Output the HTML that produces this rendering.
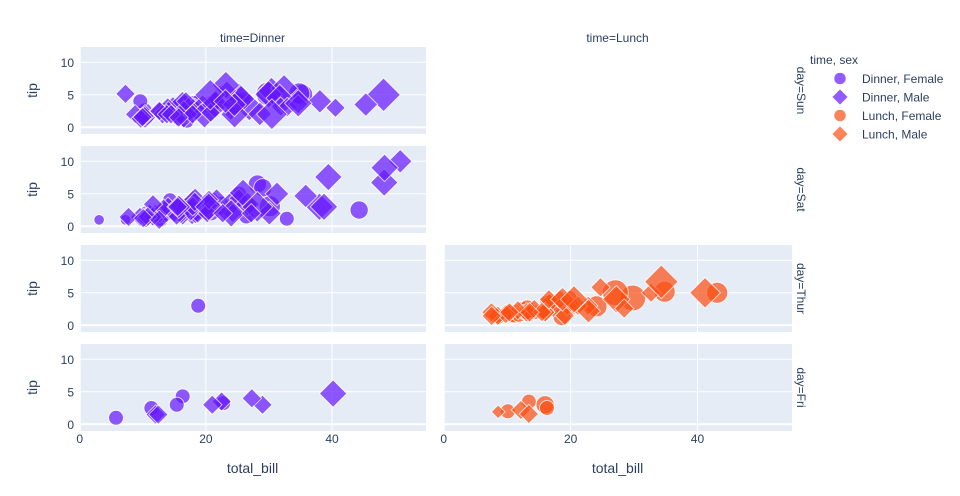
<!DOCTYPE html>
<html><head><meta charset="utf-8"><style>
body{margin:0;background:#fff;}
svg{display:block;font-family:"Liberation Sans",Arial,sans-serif;}
</style></head><body>
<svg id="chart" width="960" height="496"></svg>
<script>
// ---- data (tips dataset, by day) ----
const sunBill=[16.99,10.34,21.01,23.68,24.59,25.29,8.77,26.88,15.04,14.78,10.27,35.26,15.42,18.43,14.83,21.58,10.33,16.29,16.97,17.46,13.94,9.68,30.4,18.29,22.23,32.4,28.55,18.04,12.54,10.29,34.81,9.94,25.56,19.49,38.07,23.95,25.71,17.31,29.93,14.07,13.13,17.26,24.55,19.77,29.85,48.17,25.0,13.39,16.49,21.5,12.66,16.21,13.81,17.51,24.52,20.76,31.71,7.25,31.85,16.82,32.9,17.89,14.48,9.6,34.63,34.65,23.33,45.35,23.17,40.55,20.69,20.9,30.46,18.15,23.1,15.69];
const sunTip=[1.01,1.66,3.5,3.31,3.61,4.71,2.0,3.12,1.96,3.23,1.71,5.0,1.57,3.0,3.02,3.92,1.67,3.71,3.5,2.54,3.06,1.32,5.6,3.0,5.0,6.0,2.05,3.0,2.5,2.6,5.2,1.56,4.34,3.51,4.0,2.55,4.0,3.5,5.07,2.5,2.0,2.74,2.0,2.0,5.14,5.0,3.75,2.61,2.0,3.5,2.5,2.0,2.0,3.0,3.48,2.24,4.5,5.15,3.18,4.0,3.11,2.0,2.0,4.0,3.55,3.68,5.65,3.5,6.5,3.0,5.0,3.5,2.0,3.5,4.0,1.5];
const sunSex="FMMMFMMMMMMFMMFMFMFMMMMMMMMMMFFMMMMMFFMMMMMMFMFFMMMFMFMMMMMMMMMFMMMMMMMFMFMM";
const sunSize=[2,3,3,2,4,4,2,4,2,2,2,4,2,4,2,2,3,3,3,2,2,2,4,2,2,4,3,2,2,2,4,2,4,2,3,2,3,2,4,2,2,3,4,4,5,6,4,2,4,4,2,3,2,2,3,2,4,2,2,2,2,2,2,2,2,4,2,3,4,2,5,3,5,3,3,2];
const satBill=[20.65,17.92,20.29,15.77,39.42,19.82,17.81,13.37,12.69,21.7,19.65,9.55,18.35,15.06,20.69,17.78,24.06,16.31,16.93,18.69,31.27,16.04,38.01,26.41,11.24,48.27,20.29,13.81,11.02,18.29,17.59,20.08,16.45,3.07,20.23,15.01,12.02,17.07,26.86,25.28,14.73,10.51,17.92,44.3,22.42,20.92,15.36,20.49,25.21,18.24,14.31,14.0,7.25,10.59,10.63,50.81,15.81,26.59,38.73,24.27,12.76,30.06,25.89,48.33,13.27,28.17,12.9,28.15,11.59,7.74,30.14,20.45,13.28,22.12,24.01,15.69,11.61,10.77,15.53,10.07,12.6,32.83,35.83,29.03,27.18,22.67,17.82];
const satTip=[3.35,4.08,2.75,2.23,7.58,3.18,2.34,2.0,2.0,4.3,3.0,1.45,2.5,3.0,2.45,3.27,3.6,2.0,3.07,2.31,5.0,2.24,3.0,1.5,1.76,6.73,3.21,2.0,1.98,3.76,2.64,3.15,2.47,1.0,2.01,2.09,1.97,3.0,3.14,5.0,2.2,1.25,3.08,2.5,3.48,4.08,1.64,4.06,4.29,3.76,4.0,3.0,1.0,1.61,2.0,10.0,3.16,3.41,3.0,2.03,2.23,2.0,5.16,9.0,2.5,6.5,1.1,3.0,1.5,1.44,3.09,3.0,2.72,2.88,2.0,3.0,3.39,1.47,3.0,1.25,1.0,1.17,4.67,5.92,2.0,2.0,1.75];
const satSex="MMFFMMMMMMFMMFFMMMFMMMMFMMMMMMMMFFMMMFFFFMMFFFMMMMFMFFFMMMMMFMMMFFFMMMFMMFMMMMMMMFMFMM";
const satSize=[3,2,2,2,4,2,4,2,2,2,2,2,4,2,4,2,3,3,3,3,3,3,4,2,2,4,2,2,2,4,3,3,2,1,2,2,2,3,2,2,2,2,2,3,2,2,2,2,2,2,2,2,1,2,2,3,2,3,4,2,2,3,4,4,2,3,2,5,2,2,4,4,2,2,4,3,2,2,2,2,2,2,3,3,2,2,2];
const thurBill=[27.2,22.76,17.29,19.44,16.66,10.07,32.68,15.98,34.83,13.03,18.28,24.71,21.16,10.65,12.43,24.08,11.69,13.42,14.26,15.95,12.48,29.8,8.52,14.52,11.38,22.82,19.08,20.27,11.17,12.26,18.26,8.51,10.33,14.15,16.0,13.16,17.47,34.3,41.19,27.05,16.43,8.35,18.64,11.87,9.78,7.51,19.81,28.44,15.48,16.58,7.56,10.34,43.11,13.0,13.51,18.71,12.74,13.0,16.4,20.53,16.47,18.78];
const thurTip=[4.0,3.0,2.71,3.0,3.4,1.83,5.0,2.03,5.17,2.0,4.0,5.85,3.0,1.5,1.8,2.92,2.31,1.68,2.5,2.0,2.52,4.2,1.48,2.0,2.0,2.18,1.5,2.83,1.5,2.0,3.25,1.25,2.0,2.0,2.0,2.75,3.5,6.7,5.0,5.0,2.3,1.5,1.36,1.63,1.73,2.0,4.19,2.56,2.02,4.0,1.44,2.0,5.0,2.0,2.0,4.0,2.01,2.0,2.5,4.0,3.23,3.0];
const thurSex="MMMMMFMMFMMMMFFFMFMMFFMFFMMFFFFFFFMFFMMFFFFFMMFMMMMMFFMMFFFMFF";
const thurSize=[4,2,2,2,2,1,2,2,4,2,2,2,2,2,2,4,2,2,2,2,2,6,2,2,2,3,2,2,2,2,2,2,2,2,2,2,2,6,5,6,2,2,3,2,2,2,2,2,2,2,2,2,4,2,2,3,2,2,2,4,3,2];
const thurTime="LLLLLLLLLLLLLLLLLLLLLLLLLLLLLLLLLLLLLLLLLLLLLLLLLLLLLLLLLLLLLD";
const friBill=[28.97,22.49,5.75,16.32,22.75,40.17,27.28,12.03,21.01,12.46,11.35,15.38,12.16,13.42,8.58,15.98,13.42,16.27,10.09];
const friTip=[3.0,3.5,1.0,4.3,3.25,4.73,4.0,1.5,3.0,1.5,2.5,3.0,2.2,3.48,1.92,3.0,1.58,2.5,2.0];
const friSex="MMFFFMMMMMFFMFMFMFF";
const friSize=[2,2,2,2,2,4,2,2,2,2,2,2,2,2,1,3,2,2,2];
const friTime="DDDDDDDDDDDDLLLLLLL";
const xTicks=[0,20,40];
const yTicks=[0,5,10];
const dayLabels=["Sun","Sat","Thur","Fri"];
const timeLabels=["Dinner","Lunch"];
const legendLabels=["Dinner, Female","Dinner, Male","Lunch, Female","Lunch, Male"];

// ---- layout ----
const NS="http://www.w3.org/2000/svg";
const svg=document.getElementById('chart');
const colX=[[79,426],[443,792]];
const rowY=[[47,134],[146,233],[245,332],[344,431]];
const xDom=[-0.12,54.9], yDom=[-1.03,12.35];
const COL={D:'rgb(100,22,255)',L:'rgb(252,78,18)'};
function mk(tag,attrs,parent){const e=document.createElementNS(NS,tag);for(const k in attrs)e.setAttribute(k,attrs[k]);(parent||svg).appendChild(e);return e;}
function sx(c,v){const [a,b]=colX[c];return a+(v-xDom[0])/(xDom[1]-xDom[0])*(b-a);}
function sy(r,v){const [a,b]=rowY[r];return b-(v-yDom[0])/(yDom[1]-yDom[0])*(b-a);}
function marker(g,cx,cy,d,sex,color){
  let e;
  if(sex==='F'){e=mk('circle',{cx:cx,cy:cy,r:d/2},g);}
  else{const h=d*0.65;e=mk('path',{d:`M${cx-h},${cy}L${cx},${cy-h}L${cx+h},${cy}L${cx},${cy+h}Z`},g);}
  e.setAttribute('fill',color);e.setAttribute('stroke','#fff');e.setAttribute('stroke-width','1');e.setAttribute('opacity','0.7');
  return e;
}
const panels=[[0,0],[1,0],[2,0],[2,1],[3,0],[3,1]];
panels.forEach(([r,c])=>{
  const g=mk('g',{});
  
  
  mk('rect',{x:colX[c][0],y:rowY[r][0],width:colX[c][1]-colX[c][0],height:rowY[r][1]-rowY[r][0],fill:'#e5ecf6'},g);
  yTicks.forEach(t=>{const y=sy(r,t);mk('line',{x1:colX[c][0],x2:colX[c][1],y1:y,y2:y,stroke:'#fff','stroke-width':t===0?2:1},g);});
  xTicks.forEach(t=>{const x=sx(c,t);mk('line',{x1:x,x2:x,y1:rowY[r][0],y2:rowY[r][1],stroke:'#fff','stroke-width':t===0?2:1},g);});
});
function plotDay(r,bill,tip,sex,size,time){
  const g=mk('g',{});
  
  
  const order=[['D','F'],['D','M'],['L','F'],['L','M']];
  order.forEach(([tm,sx_])=>{
    for(let i=0;i<bill.length;i++){
      const t=time?time[i]:'D';
      if(t!==tm||sex[i]!==sx_)continue;
      const c=t==='D'?0:1;
      const m=marker(g,sx(c,bill[i]),sy(r,tip[i]),10.6*Math.sqrt(size[i]),sex[i],COL[t]);
      
      
    }
  });
}
plotDay(0,sunBill,sunTip,sunSex,sunSize,null);
plotDay(1,satBill,satTip,satSex,satSize,null);
plotDay(2,thurBill,thurTip,thurSex,thurSize,thurTime);
plotDay(3,friBill,friTip,friSex,friSize,friTime);

// y tick labels + titles
for(let r=0;r<4;r++){
  yTicks.forEach(t=>{const e=mk('text',{x:74,y:sy(r,t)+4.5,'text-anchor':'end','font-size':12,fill:'#2a3f5f'});e.textContent=t;
    });
  const cy=(rowY[r][0]+rowY[r][1])/2;
  const yt=mk('text',{x:0,y:0,transform:`translate(37,${cy}) rotate(-90)`,'text-anchor':'middle','font-size':14,fill:'#2a3f5f'});yt.textContent='tip';
  
  const dl=mk('text',{x:0,y:0,transform:`translate(797,${cy}) rotate(90)`,'text-anchor':'middle','font-size':12,fill:'#2a3f5f'});dl.textContent='day='+dayLabels[r];
  
}
for(let c=0;c<2;c++){
  xTicks.forEach(t=>{const e=mk('text',{x:sx(c,t),y:443,'text-anchor':'middle','font-size':12,fill:'#2a3f5f'});e.textContent=t;
    });
  const cx=(colX[c][0]+colX[c][1])/2;
  const xt=mk('text',{x:cx,y:473,'text-anchor':'middle','font-size':14,fill:'#2a3f5f'});xt.textContent='total_bill';
  
  const ct=mk('text',{x:cx,y:42,'text-anchor':'middle','font-size':12,fill:'#2a3f5f'});ct.textContent='time='+timeLabels[c];
  
}
// legend
const lg=mk('g',{});


const lt=mk('text',{x:810,y:64,'font-size':12,fill:'#2a3f5f'},lg);lt.textContent='time, sex';

legendLabels.forEach((lab,i)=>{
  const y=78.5+i*18.5;
  const eg=mk('g',{},lg);
  
  
  const t=lab.startsWith('Dinner')?'D':'L';const s=lab.endsWith('Female')?'F':'M';
  const m=marker(eg,840,y,12,s,COL[t]);m.setAttribute('stroke-width','0.5');
  const tx=mk('text',{x:862,y:y+4.5,'font-size':12,fill:'#2a3f5f'},eg);tx.textContent=lab;
});
</script>
</body></html>
